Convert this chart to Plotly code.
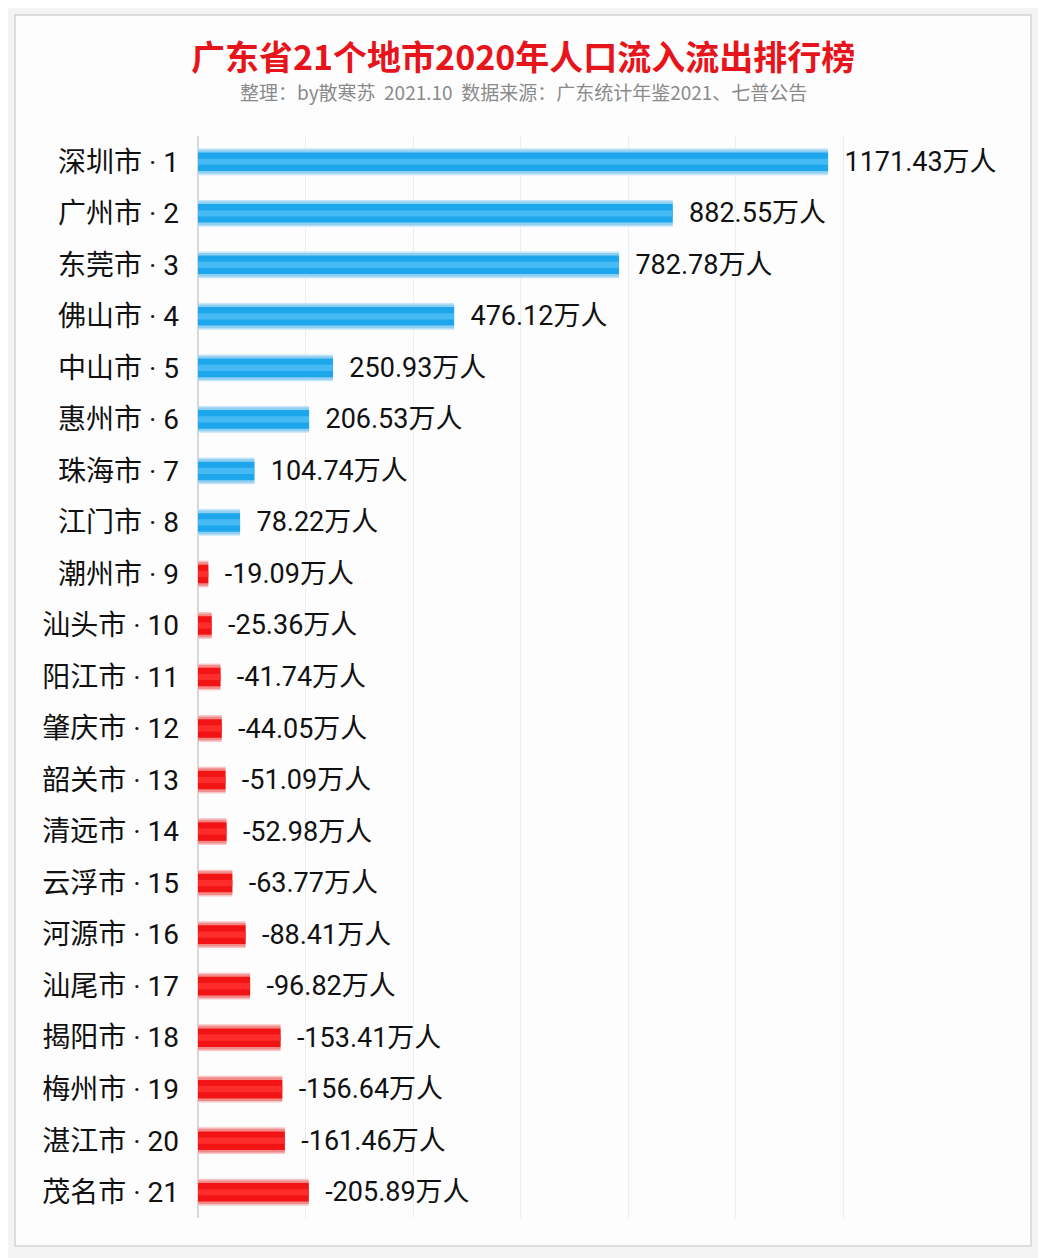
import plotly.graph_objects as go

cities = ["深圳市", "广州市", "东莞市", "佛山市", "中山市", "惠州市", "珠海市", "江门市",
          "潮州市", "汕头市", "阳江市", "肇庆市", "韶关市", "清远市", "云浮市", "河源市",
          "汕尾市", "揭阳市", "梅州市", "湛江市", "茂名市"]
net_flow = [1171.43, 882.55, 782.78, 476.12, 250.93, 206.53, 104.74, 78.22,
            -19.09, -25.36, -41.74, -44.05, -51.09, -52.98, -63.77, -88.41,
            -96.82, -153.41, -156.64, -161.46, -205.89]

labels = [f"{c} · {i + 1}" for i, c in enumerate(cities)]
lengths = [abs(v) for v in net_flow]
texts = [f"  {v:.2f}万人" for v in net_flow]

FONT = "Roboto, Noto Sans CJK SC, sans-serif"
OFF = 8  # page body margin
W, H = 1046, 1258
L, R, T, B = 198 - OFF, 95 + OFF, 136 - OFF, 40 + OFF

# cylinder look: faded edge, saturated body, soft highlight
blue_layers = ["#c4e5f8", "#8fcff2", "#1ea6ec", "#45baf4"]
red_layers = ["#f8c4c4", "#f38a8a", "#f21414", "#ff2c2c"]
widths = [0.52, 0.46, 0.36, 0.12]

fig = go.Figure()
for k, w in enumerate(widths):
    colors = [blue_layers[k] if v > 0 else red_layers[k] for v in net_flow]
    fig.add_trace(go.Bar(
        x=lengths, y=labels, orientation="h", width=w,
        marker={"color": colors, "line": {"width": 0}},
        text=texts if k == 0 else None,
        textposition="outside" if k == 0 else "none",
        outsidetextfont={"family": FONT, "size": 27, "color": "#111111"},
        constraintext="none",
        cliponaxis=False, hoverinfo="skip", showlegend=False,
    ))


def px_x(p):
    return (p - OFF - L) / (W - L - R)


def px_y(p):
    return (H - B - (p - OFF)) / (H - T - B)


fig.update_layout(
    barmode="overlay",
    width=W, height=H,
    margin={"l": L, "r": R, "t": T, "b": B},
    paper_bgcolor="#f4f4f4", plot_bgcolor="#fdfdfe",
    font={"family": FONT},
    xaxis={"range": [0, 1400], "dtick": 200, "showticklabels": False,
           "showgrid": True, "gridcolor": "#eceef2", "zeroline": True,
           "zerolinecolor": "#d8d8d8", "fixedrange": True},
    yaxis={"autorange": "reversed", "tickfont": {"family": FONT, "size": 28, "color": "#111111"},
           "ticks": "", "ticklabelstandoff": 18, "showgrid": False},
    shapes=[{
        "type": "rect", "xref": "paper", "yref": "paper", "layer": "below",
        "x0": px_x(15), "x1": px_x(1031), "y0": px_y(1246), "y1": px_y(15),
        "fillcolor": "#fdfdfe", "line": {"color": "#d4d4d4", "width": 1.5},
    }],
    annotations=[
        {"text": "<b>广东省21个地市2020年人口流入流出排行榜</b>", "xref": "paper", "yref": "paper",
         "x": px_x(523), "y": px_y(56), "yanchor": "middle", "showarrow": False,
         "font": {"family": "Noto Sans CJK SC", "size": 34, "color": "#e8141b"}},
        {"text": "整理：by散寒苏  2021.10  数据来源：广东统计年鉴2021、七普公告", "xref": "paper",
         "yref": "paper", "x": px_x(523), "y": px_y(92), "yanchor": "middle", "showarrow": False,
         "font": {"family": "Noto Sans CJK SC", "size": 19, "color": "#8a8a8a"}},
    ],
)

fig.write_html("out.html")
